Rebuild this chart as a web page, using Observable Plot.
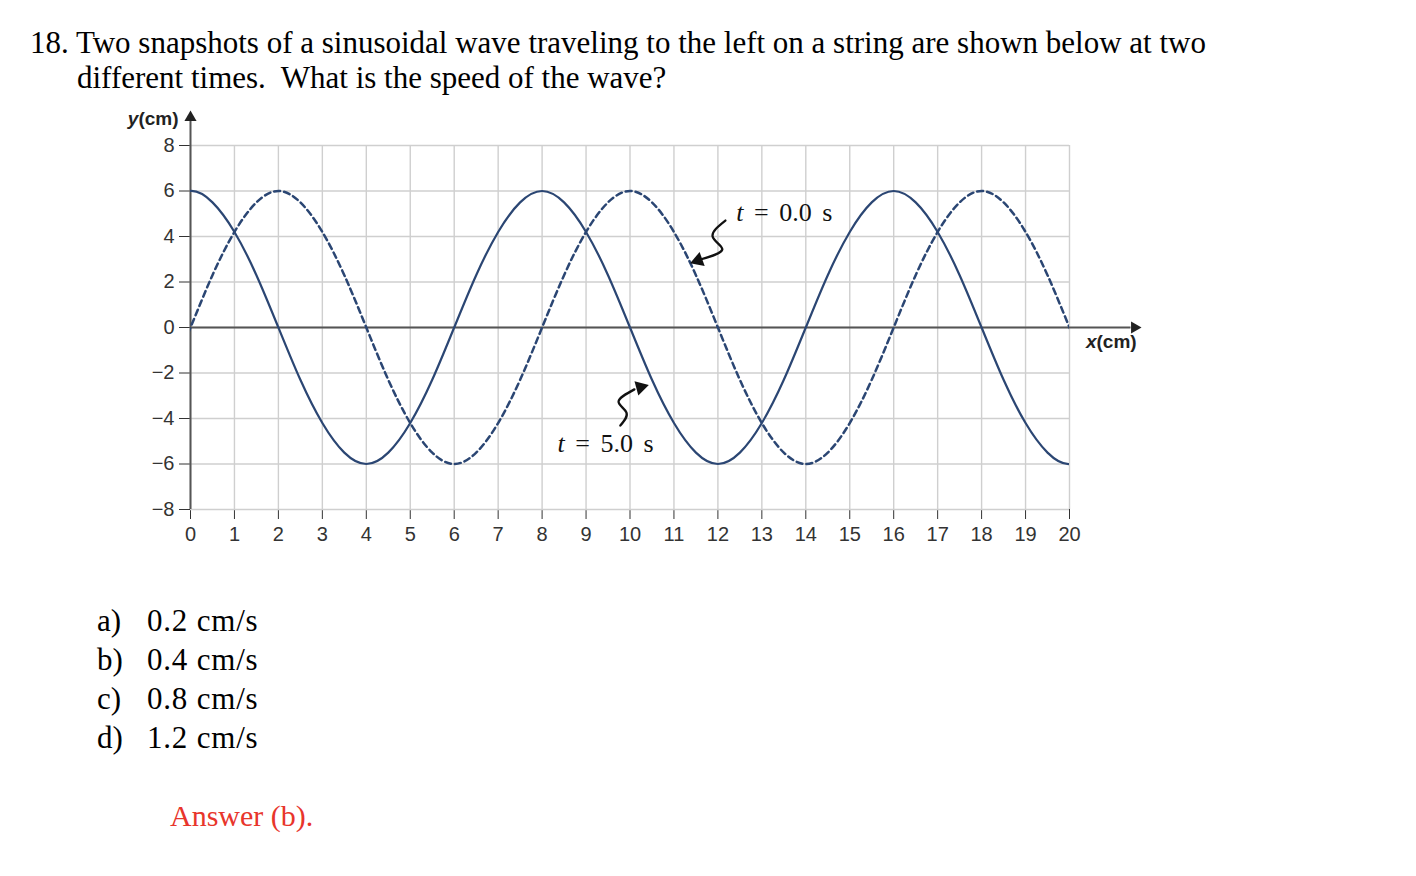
<!DOCTYPE html>
<html>
<head>
<meta charset="utf-8">
<script src="https://cdn.jsdelivr.net/npm/d3@7"></script>
<script src="https://cdn.jsdelivr.net/npm/@observablehq/plot@0.6"></script>
<style>
  html, body { margin: 0; padding: 0; background: #fff; }
  body { width: 1416px; height: 876px; position: relative; overflow: hidden; }
  .serif { font-family: "Liberation Serif", "Times New Roman", serif; color: #000; position: absolute; white-space: pre; line-height: 1; }
  #chart { position: absolute; left: 0; top: 100px; }
</style>
</head>
<body>
<div class="serif" id="q1" style="left:30px; top:27px; font-size:31px;"></div>
<div class="serif" id="q2" style="left:77px; top:62px; font-size:31px;"></div>
<div id="chart"></div>
<div id="opts"></div>
<div class="serif" id="answer" style="left:170px; top:801px; font-size:30px; color:#e8352b;"></div>
<script>
// ---- text content ----
const questionLines = [
  "18. Two snapshots of a sinusoidal wave traveling to the left on a string are shown below at two",
  "different times.  What is the speed of the wave?"
];
const optionLetters = ["a)", "b)", "c)", "d)"];
const optionValues = ["0.2 cm/s", "0.4 cm/s", "0.8 cm/s", "1.2 cm/s"];
const answerText = "Answer (b).";

// ---- chart data ----
// sample positions (cm); the first and last sit just outside the frame and are clipped,
// so the curve keeps its shape right up to the frame edges
const xs = [-0.5,0,0.5,1,1.5,2,2.5,3,3.5,4,4.5,5,5.5,6,6.5,7,7.5,8,8.5,9,9.5,10,
            10.5,11,11.5,12,12.5,13,13.5,14,14.5,15,15.5,16,16.5,17,17.5,18,18.5,19,19.5,20,20.5];
// solid curve: snapshot at t = 5.0 s
const ySolid = [5.5,
                6,5.5,4.2,2.3,0,-2.3,-4.2,-5.5,-6,-5.5,-4.2,-2.3,0,2.3,4.2,5.5,
                6,5.5,4.2,2.3,0,-2.3,-4.2,-5.5,-6,-5.5,-4.2,-2.3,0,2.3,4.2,5.5,
                6,5.5,4.2,2.3,0,-2.3,-4.2,-5.5,-6,
                -5.5];
// dashed curve: snapshot at t = 0.0 s
const yDashed = [-2.3,
                 0,2.3,4.2,5.5,6,5.5,4.2,2.3,0,-2.3,-4.2,-5.5,-6,-5.5,-4.2,-2.3,
                 0,2.3,4.2,5.5,6,5.5,4.2,2.3,0,-2.3,-4.2,-5.5,-6,-5.5,-4.2,-2.3,
                 0,2.3,4.2,5.5,6,5.5,4.2,2.3,0,
                 -2.3];
const xTicks = [0,1,2,3,4,5,6,7,8,9,10,11,12,13,14,15,16,17,18,19,20];
const yTicks = [-8,-6,-4,-2,0,2,4,6,8];
const xDomain = [0, 20];
const yDomain = [-8, 8];
const axisArrowX = 21.6;   // end of x axis arrow
const axisArrowY = 9.45;   // end of y axis arrow
const axisLabelText = ["y(cm)", "x(cm)"];
const axisLabelX = [-0.85, 20.95];
const axisLabelY = [9.15, -0.62];

// annotations
const annoText = ["t = 0.0 s", "t = 5.0 s"];
const annoX = [12.42, 8.35];
const annoY = [5.05, -5.1];
// squiggly pointer paths (data units)
const squig0x = [12.17, 11.88, 12.10, 11.62];
const squig0y = [4.70, 4.00, 3.43, 3.0];
const squig5x = [9.78, 9.92, 9.74, 10.1];
const squig5y = [-4.31, -3.74, -3.25, -2.72];
const headX = [11.55, 10.24];
const headY = [2.95, -2.63];
const headRotate = [250, 75];

const solidData = xs.map((x, i) => ({x, y: ySolid[i]}));
const dashedData = xs.map((x, i) => ({x, y: yDashed[i]}));
const squig0 = squig0x.map((x, i) => ({x, y: squig0y[i]}));
const squig5 = squig5x.map((x, i) => ({x, y: squig5y[i]}));
const heads = headX.map((x, i) => ({x, y: headY[i], r: headRotate[i]}));
const labels = axisLabelText.map((t, i) => ({t, x: axisLabelX[i], y: axisLabelY[i]}));
const annos = annoText.map((t, i) => ({t, x: annoX[i], y: annoY[i]}));

const waveColor = "#2b4673";
const gridColor = "#cfcfcf";
const axisColor = "#555";

const minus = d => d < 0 ? "\u2212" + Math.abs(d) : String(d);

const chart = Plot.plot({
  width: 1416,
  height: 470,
  marginLeft: 190,
  marginRight: 347,
  marginTop: 45,
  marginBottom: 61,
  style: {fontFamily: "'Liberation Sans', Arial, sans-serif", fontSize: "20px", color: "#333", background: "transparent"},
  x: {domain: xDomain, ticks: xTicks, tickSize: 10, tickPadding: 7, tickFormat: minus, label: null},
  y: {domain: yDomain, ticks: yTicks, tickSize: 11, tickPadding: 5, tickFormat: minus, label: null},
  marks: [
    Plot.ruleX(xTicks, {y1: yDomain[0], y2: yDomain[1], stroke: gridColor, strokeWidth: 1.4}),
    Plot.ruleY(yTicks, {x1: xDomain[0], x2: xDomain[1], stroke: gridColor, strokeWidth: 1.4}),
    Plot.ruleY([0], {x1: xDomain[0], x2: axisArrowX - 0.2, stroke: axisColor, strokeWidth: 2}),
    Plot.ruleX([0], {y1: yDomain[0], y2: axisArrowY - 0.3, stroke: axisColor, strokeWidth: 2}),
    Plot.dot([{x: 0, y: axisArrowY - 0.22}], {x: "x", y: "y", symbol: "triangle", r: 4.5, fill: "#222", stroke: null}),
    Plot.dot([{x: axisArrowX - 0.12, y: 0}], {x: "x", y: "y", symbol: "triangle", r: 4.5, fill: "#222", stroke: null, rotate: 90}),
    Plot.line(dashedData, {x: "x", y: "y", curve: "natural", clip: true, stroke: waveColor, strokeWidth: 2.5, strokeDasharray: "6,4"}),
    Plot.line(solidData, {x: "x", y: "y", curve: "natural", clip: true, stroke: waveColor, strokeWidth: 2.2}),
    Plot.line(squig0, {x: "x", y: "y", curve: "natural", stroke: "#111", strokeWidth: 2.3}),
    Plot.line(squig5, {x: "x", y: "y", curve: "natural", stroke: "#111", strokeWidth: 2.3}),
    Plot.dot(heads, {x: "x", y: "y", symbol: "triangle", r: 5.5, fill: "#111", stroke: null, rotate: "r"}),
    Plot.text(annos, {x: "x", y: "y", text: "t", textAnchor: "start", fontSize: 26, fill: "#111",
      fontFamily: "'Liberation Serif', 'Times New Roman', serif"}),
    Plot.text(labels, {x: "x", y: "y", text: "t", fontSize: 19, fontWeight: "bold", fill: "#222"})
  ]
});

// italicise the variable letters
const NS = "http://www.w3.org/2000/svg";
chart.querySelectorAll("text").forEach(el => {
  const s = el.textContent;
  if (el.querySelector("tspan")) return;
  if (/^(t = |y\(cm\)|x\(cm\))/.test(s)) {
    el.textContent = "";
    const a = document.createElementNS(NS, "tspan");
    a.setAttribute("font-style", "italic");
    a.textContent = s[0];
    const b = document.createElementNS(NS, "tspan");
    b.textContent = s.slice(1);
    el.appendChild(a); el.appendChild(b);
    if (s.startsWith("t = ")) el.style.wordSpacing = "4px";
  }
});
document.getElementById("chart").appendChild(chart);

// text blocks
document.getElementById("q1").textContent = questionLines[0];
document.getElementById("q2").textContent = questionLines[1];
document.getElementById("answer").textContent = answerText;
const opts = document.getElementById("opts");
optionLetters.forEach((l, i) => {
  const a = document.createElement("div");
  a.className = "serif";
  a.style.cssText = `left:97px; top:${605 + i * 39}px; font-size:31px;`;
  a.textContent = l;
  const b = document.createElement("div");
  b.className = "serif";
  b.style.cssText = `left:147px; top:${605 + i * 39}px; font-size:31px; letter-spacing:0.8px;`;
  b.textContent = optionValues[i];
  opts.appendChild(a); opts.appendChild(b);
});
</script>
</body>
</html>
